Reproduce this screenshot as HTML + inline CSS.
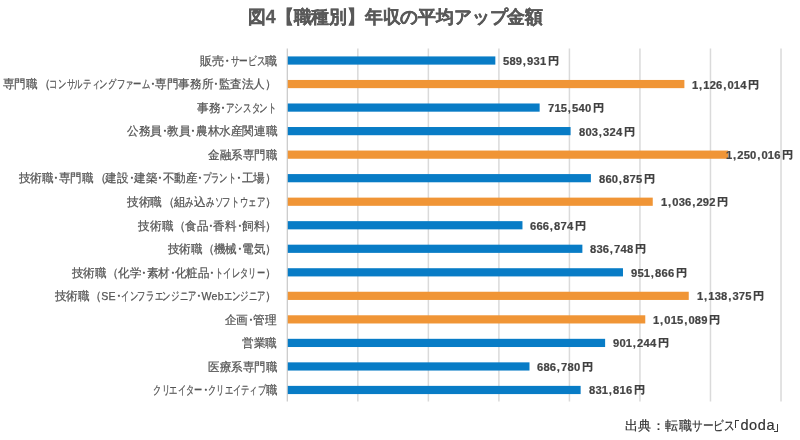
<!DOCTYPE html>
<html><head><meta charset="utf-8"><style>
html,body{margin:0;padding:0;background:#fff;}
body{width:800px;height:440px;position:relative;overflow:hidden;will-change:transform;font-family:"Liberation Sans",sans-serif;}
svg{position:absolute;left:0;top:0;}
.title{-webkit-text-stroke:0.3px #595959;position:absolute;left:248px;top:6px;font-size:18px;font-weight:bold;color:#595959;line-height:22px;white-space:nowrap;transform:scaleX(0.99);transform-origin:left center;}
.lab{position:absolute;right:523px;font-size:12px;line-height:16px;color:#555;-webkit-text-stroke:0.25px #555;white-space:nowrap;transform-origin:right center;}
.lab .d{margin:0 -3.18px;}
.lab .k{display:inline-block;transform:scaleX(0.72);transform-origin:left center;margin-right:-3.35px;}
.lab .p{letter-spacing:0.3px;}
.lab .po{position:relative;left:1px;}
.lab .a{font-size:11px;letter-spacing:0.2px;}
.val{position:absolute;font-size:10px;letter-spacing:0.15px;transform:scaleX(1.12);transform-origin:left center;-webkit-text-stroke:0.2px #444;line-height:16px;font-weight:bold;color:#444;white-space:nowrap;}
.src{position:absolute;left:624.5px;top:416px;font-size:13px;line-height:18px;color:#333;-webkit-text-stroke:0.2px #333;white-space:nowrap;letter-spacing:0.5px;}
.src .k{display:inline-block;transform:scaleX(0.82);transform-origin:left center;margin-right:-2.4px;letter-spacing:0;}
.src .b{display:inline-block;margin:0 -3.5px;letter-spacing:0;color:transparent;-webkit-text-stroke:0;}
.brk{position:absolute;width:3px;height:7px;border:0 solid #3a3a3a;}
.src .l{font-size:14.5px;letter-spacing:0.6px;}
.val .c{letter-spacing:1px;margin-left:0.6px;}
.val .y{font-size:10px;margin-left:1.5px;position:relative;top:-1px;-webkit-text-stroke:0.15px #404040;}
</style></head><body>
<svg width="800" height="440">
<rect x="357.08" y="48.5" width="1.5" height="353.0" fill="#dadada"/>
<rect x="427.61" y="48.5" width="1.5" height="353.0" fill="#dadada"/>
<rect x="498.14" y="48.5" width="1.5" height="353.0" fill="#dadada"/>
<rect x="568.67" y="48.5" width="1.5" height="353.0" fill="#dadada"/>
<rect x="639.20" y="48.5" width="1.5" height="353.0" fill="#dadada"/>
<rect x="709.73" y="48.5" width="1.5" height="353.0" fill="#dadada"/>
<rect x="780.26" y="48.5" width="1.5" height="353.0" fill="#dadada"/>
<rect x="286.70" y="48.5" width="1.2" height="353.0" fill="#c8c8c8"/>
<rect x="287.8" y="56.42" width="207.54" height="8.2" fill="#087cc6"/>
<rect x="287.8" y="79.95" width="396.59" height="8.2" fill="#f09536"/>
<rect x="287.8" y="103.48" width="251.84" height="8.2" fill="#087cc6"/>
<rect x="287.8" y="127.02" width="282.79" height="8.2" fill="#087cc6"/>
<rect x="287.8" y="150.55" width="440.32" height="8.2" fill="#f09536"/>
<rect x="287.8" y="174.08" width="303.09" height="8.2" fill="#087cc6"/>
<rect x="287.8" y="197.62" width="364.95" height="8.2" fill="#f09536"/>
<rect x="287.8" y="221.15" width="234.67" height="8.2" fill="#087cc6"/>
<rect x="287.8" y="244.68" width="294.58" height="8.2" fill="#087cc6"/>
<rect x="287.8" y="268.22" width="335.18" height="8.2" fill="#087cc6"/>
<rect x="287.8" y="291.75" width="400.95" height="8.2" fill="#f09536"/>
<rect x="287.8" y="315.28" width="357.47" height="8.2" fill="#f09536"/>
<rect x="287.8" y="338.82" width="317.32" height="8.2" fill="#087cc6"/>
<rect x="287.8" y="362.35" width="241.69" height="8.2" fill="#087cc6"/>
<rect x="287.8" y="385.88" width="292.84" height="8.2" fill="#087cc6"/>
</svg>
<div class="title">図4【職種別】年収の平均アップ金額</div>
<div class="lab" style="top:52.77px;transform:scaleX(1.0079)">販売<span class="d">・</span><span class="k">サ</span><span class="k">ー</span><span class="k">ビ</span><span class="k">ス</span>職</div>
<div class="val" style="left:503.34px;top:53.97px">589<span class="c">,</span>931<span class="y">円</span></div>
<div class="lab" style="top:76.30px;transform:scaleX(0.9651)">専門職<span class="p po">（</span><span class="k">コ</span><span class="k">ン</span><span class="k">サ</span><span class="k">ル</span><span class="k">テ</span><span class="k">ィ</span><span class="k">ン</span><span class="k">グ</span><span class="k">フ</span><span class="k">ァ</span><span class="k">ー</span><span class="k">ム</span><span class="d">・</span>専門事務所<span class="d">・</span>監査法人<span class="p">）</span></div>
<div class="val" style="left:692.39px;top:77.50px">1<span class="c">,</span>126<span class="c">,</span>014<span class="y">円</span></div>
<div class="lab" style="top:99.83px;transform:scaleX(0.9780)">事務<span class="d">・</span><span class="k">ア</span><span class="k">シ</span><span class="k">ス</span><span class="k">タ</span><span class="k">ン</span><span class="k">ト</span></div>
<div class="val" style="left:547.64px;top:101.03px">715<span class="c">,</span>540<span class="y">円</span></div>
<div class="lab" style="top:123.37px;transform:scaleX(0.9684)">公務員<span class="d">・</span>教員<span class="d">・</span>農林水産関連職</div>
<div class="val" style="left:578.59px;top:124.57px">803<span class="c">,</span>324<span class="y">円</span></div>
<div class="lab" style="top:146.90px;transform:scaleX(0.9528)">金融系専門職</div>
<div class="val" style="left:725.62px;top:148.10px">1<span class="c">,</span>250<span class="c">,</span>016<span class="y">円</span></div>
<div class="lab" style="top:170.43px;transform:scaleX(0.9634)">技術職<span class="d">・</span>専門職<span class="p po">（</span>建設<span class="d">・</span>建築<span class="d">・</span>不動産<span class="d">・</span><span class="k">プ</span><span class="k">ラ</span><span class="k">ン</span><span class="k">ト</span><span class="d">・</span>工場<span class="p">）</span></div>
<div class="val" style="left:598.89px;top:171.63px">860<span class="c">,</span>875<span class="y">円</span></div>
<div class="lab" style="top:193.97px;transform:scaleX(0.9747)">技術職<span class="p po">（</span>組<span class="k">み</span>込<span class="k">み</span><span class="k">ソ</span><span class="k">フ</span><span class="k">ト</span><span class="k">ウ</span><span class="k">ェ</span><span class="k">ア</span><span class="p">）</span></div>
<div class="val" style="left:660.75px;top:195.17px">1<span class="c">,</span>036<span class="c">,</span>292<span class="y">円</span></div>
<div class="lab" style="top:217.50px;transform:scaleX(0.9618)">技術職<span class="p po">（</span>食品<span class="d">・</span>香料<span class="d">・</span>飼料<span class="p">）</span></div>
<div class="val" style="left:530.47px;top:218.70px">666<span class="c">,</span>874<span class="y">円</span></div>
<div class="lab" style="top:241.03px;transform:scaleX(0.9605)">技術職<span class="p po">（</span>機械<span class="d">・</span>電気<span class="p">）</span></div>
<div class="val" style="left:590.38px;top:242.23px">836<span class="c">,</span>748<span class="y">円</span></div>
<div class="lab" style="top:264.57px;transform:scaleX(0.9589)">技術職<span class="p po">（</span>化学<span class="d">・</span>素材<span class="d">・</span>化粧品<span class="d">・</span><span class="k">ト</span><span class="k">イ</span><span class="k">レ</span><span class="k">タ</span><span class="k">リ</span><span class="k">ー</span><span class="p">）</span></div>
<div class="val" style="left:630.98px;top:265.77px">951<span class="c">,</span>866<span class="y">円</span></div>
<div class="lab" style="top:288.10px;transform:scaleX(0.9624)">技術職<span class="p po">（</span><span class="a">S</span><span class="a">E</span><span class="d">・</span><span class="k">イ</span><span class="k">ン</span><span class="k">フ</span><span class="k">ラ</span><span class="k">エ</span><span class="k">ン</span><span class="k">ジ</span><span class="k">ニ</span><span class="k">ア</span><span class="d">・</span><span class="a">W</span><span class="a">e</span><span class="a">b</span><span class="k">エ</span><span class="k">ン</span><span class="k">ジ</span><span class="k">ニ</span><span class="k">ア</span><span class="p">）</span></div>
<div class="val" style="left:696.75px;top:289.30px">1<span class="c">,</span>138<span class="c">,</span>375<span class="y">円</span></div>
<div class="lab" style="top:311.63px;transform:scaleX(0.9685)">企画<span class="d">・</span>管理</div>
<div class="val" style="left:653.27px;top:312.83px">1<span class="c">,</span>015<span class="c">,</span>089<span class="y">円</span></div>
<div class="lab" style="top:335.17px;transform:scaleX(0.9694)">営業職</div>
<div class="val" style="left:613.12px;top:336.37px">901<span class="c">,</span>244<span class="y">円</span></div>
<div class="lab" style="top:358.70px;transform:scaleX(0.9528)">医療系専門職</div>
<div class="val" style="left:537.49px;top:359.90px">686<span class="c">,</span>780<span class="y">円</span></div>
<div class="lab" style="top:382.23px;transform:scaleX(0.9535)"><span class="k">ク</span><span class="k">リ</span><span class="k">エ</span><span class="k">イ</span><span class="k">タ</span><span class="k">ー</span><span class="d">・</span><span class="k">ク</span><span class="k">リ</span><span class="k">エ</span><span class="k">イ</span><span class="k">テ</span><span class="k">ィ</span><span class="k">ブ</span>職</div>
<div class="val" style="left:588.64px;top:383.43px">831<span class="c">,</span>816<span class="y">円</span></div>
<div class="src">出典：転職<span class="k">サ</span><span class="k">ー</span><span class="k">ビ</span><span class="k">ス</span><span class="b">「</span><span class="l">doda</span><span class="b">」</span></div>
<div class="brk" style="left:734.5px;top:420px;border-left-width:1.2px;border-top-width:1.2px"></div>
<div class="brk" style="left:773.5px;top:424px;border-right-width:1.2px;border-bottom-width:1.2px"></div>
</body></html>
